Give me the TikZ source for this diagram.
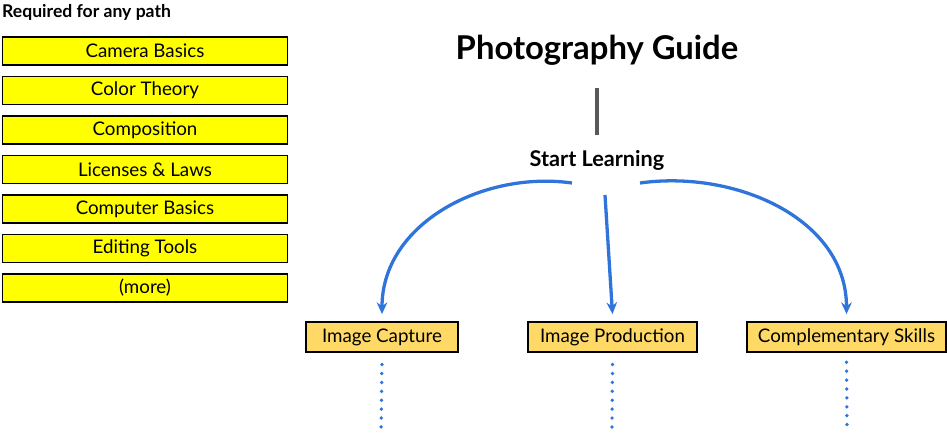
\documentclass[tikz,border=0pt]{standalone}
\usepackage{fontspec}
\setmainfont{Lato}
\usetikzlibrary{arrows.meta,positioning}

\definecolor{reqyellow}{HTML}{FFFF00}
\definecolor{pathorange}{HTML}{FFD966}
\definecolor{flowblue}{HTML}{2E74DB}

\begin{document}
\begin{tikzpicture}[x=0.03cm,y=-0.03cm,
    reqbox/.style={draw,line width=1.5pt,fill=reqyellow,minimum width=285*0.03cm,minimum height=28*0.03cm,inner sep=0pt,font=\fontsize{16}{18}\selectfont},
    pathbox/.style={draw,line width=1.5pt,fill=pathorange,minimum height=30*0.03cm,inner sep=0pt,font=\fontsize{16}{18}\selectfont},
    flow/.style={draw=flowblue,line width=2.8pt,-{Stealth[length=10pt,width=9pt]}},
    trail/.style={draw=flowblue,line width=3.2pt,line cap=round,dash pattern=on 0pt off 7.6pt}]
  \useasboundingbox (0,0) rectangle (947,436);

  % required courses
  \node[anchor=west,inner sep=0pt,font=\bfseries\fontsize{15}{16}\selectfont] (req) at (2,12) {Required for any path};
  \foreach \txt [count=\i] in {Camera Basics,Color Theory,Composition,Licenses \& Laws,Computer Basics,Editing Tools,(more)}
    \node[reqbox] (r\i) at (145,{51+39.5*(\i-1)}) {\txt};

  % main path
  \node[font=\bfseries\fontsize{28}{30}\selectfont] (title) at (597,50) {Photography Guide};
  \node[font=\bfseries\fontsize{18.5}{20}\selectfont] (start) at (597,160) {Start Learning};
  \draw[line width=3.2pt,gray!70!black] ([yshift=-16pt]title.south) -- ([yshift=9pt]start.north);

  \node[pathbox,minimum width=152*0.03cm] (capture) at (382,337) {Image Capture};
  \node[pathbox,minimum width=169*0.03cm] (production) at (612.5,337) {Image Production};
  \node[pathbox,minimum width=199*0.03cm] (skills) at (846.5,337) {Complementary Skills};

  \draw[flow] (572,183) to[out=172,in=90] ([yshift=6pt]capture.north);
  \draw[flow] (605,195) to ([yshift=6pt]production.north);
  \draw[flow] (640,183) to[out=8,in=90] ([yshift=6pt]skills.north);

  \coordinate (c1) at (381,430);
  \coordinate (c2) at (612,430);
  \coordinate (c3) at (847,426);
  \draw[trail] ([yshift=-10pt]capture.south) -- (c1);
  \draw[trail] ([yshift=-10pt]production.south) -- (c2);
  \draw[trail] ([yshift=-8pt]skills.south) -- (c3);
\end{tikzpicture}
\end{document}
